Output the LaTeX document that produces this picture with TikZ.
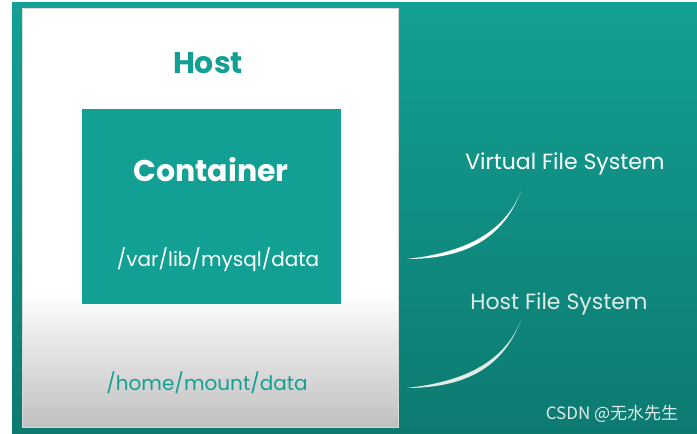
\documentclass[tikz,border=0pt]{standalone}
\usepackage{fontspec}
\setmainfont{Poppins}
\newfontfamily\cjk{Noto Sans CJK SC}
\usetikzlibrary{positioning}
\definecolor{teal1}{RGB}{19,160,148}
\definecolor{teal2}{RGB}{13,122,112}
\definecolor{hostgrey}{RGB}{192,192,192}
\definecolor{fsgrey}{RGB}{225,235,232}

\begin{document}
\begin{tikzpicture}[x=1pt,y=-1pt,
  title/.style={font=\fontsize{30}{32}\selectfont\bfseries},
  path/.style={font=\fontsize{20}{22}\selectfont},
  fs/.style={font=\fontsize{22}{24}\selectfont,text=white},
  wisp/.style={fill=white}]
\useasboundingbox (0,0) rectangle (697,434);
% background
\fill[white] (0,0) rectangle (697,434);
\shade[top color=teal1,bottom color=teal2] (12,2) rectangle (697,434);
\fill[white] (0,0) rectangle (138,2);
% host box
\fill[white] (22,8) rectangle (398,292);
\shade[top color=white,bottom color=hostgrey] (22,291) rectangle (398,427);
\draw[white!85!black,line width=0.6pt] (22,8) rectangle (398,427);
\node[title,text=teal1] (host) at (208,63) {Host};
% container box
\fill[teal1] (82,109) rectangle (341,304);
\node[title,text=white] (container) at (211,170) {Container};
\node[path,text=white] (vardata) at (218,260) {/var/lib/mysql/data};
\node[path,text=teal1] (homedata) at (207,383) {/home/mount/data};
% labels on the right
\node[fs] (vfs) at (565,164) {Virtual File System};
\node[fs,text=fsgrey] (hfs) at (559,304) {Host File System};
\coordinate (v1) at (406,259);
\coordinate (v2) at (521,191);
\coordinate (h1) at (406,388);
\coordinate (h2) at (521,320);
\fill[wisp] (v1) .. controls (465,253) and (505,232) .. (v2)
  .. controls (503,239) and (465,259) .. (v1);
\fill[wisp,fill=fsgrey] (h1) .. controls (465,382) and (505,361) .. (h2)
  .. controls (503,368) and (465,388) .. (h1);
\node[font=\cjk\fontsize{17}{19}\selectfont,text=fsgrey] (mark) at (612,414) {CSDN @无水先生};
\end{tikzpicture}
\end{document}
